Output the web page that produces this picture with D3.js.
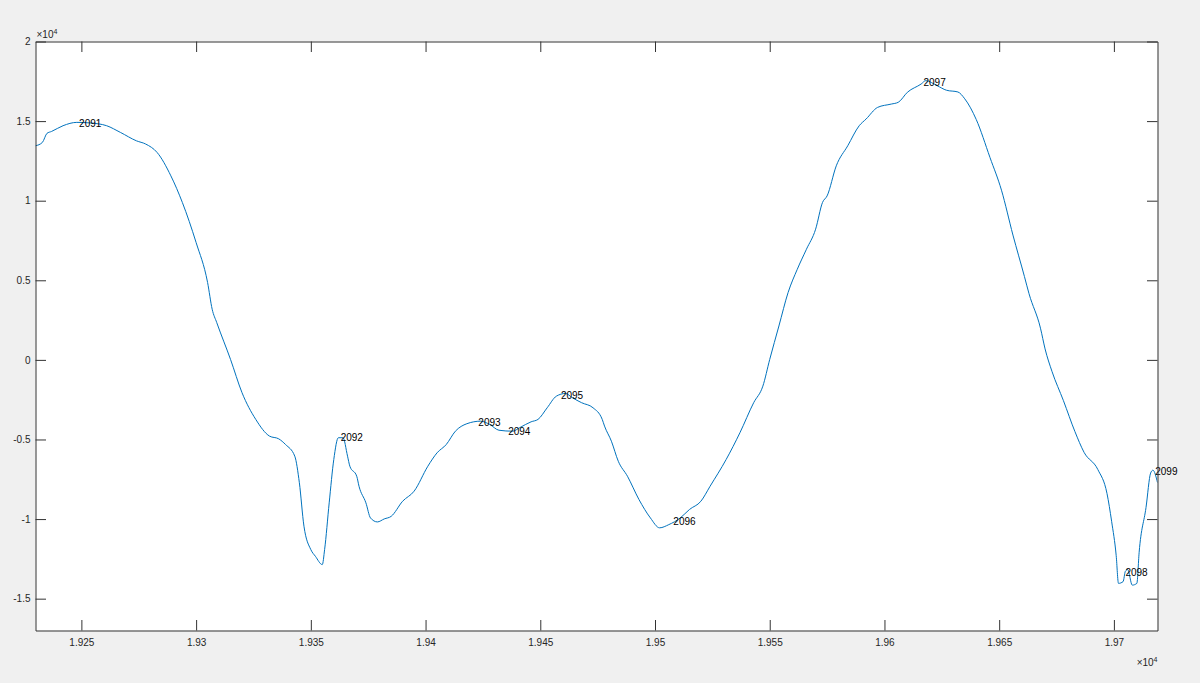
<!DOCTYPE html>
<html>
<head>
<meta charset="utf-8">
<script src="https://cdn.jsdelivr.net/npm/d3@7"></script>
<style>
  html, body { margin: 0; padding: 0; background: #f0f0f0; }
  svg { display: block; }
  text { font-family: "Liberation Sans", Arial, Helvetica, sans-serif; }
</style>
</head>
<body>
<svg id="chart" width="1200" height="683"></svg>
<script>
// ---- data ----
const sampleX = [19230,19233,19235,19237,19242,19248,19254,19261,19267,19274,19278,19283,19289,19294,19300,19305,19307,19309,19315,19320,19326,19332,19336,19339,19343,19345,19347,19350,19352,19355,19356,19358,19360,19362,19364,19366,19367,19370,19371,19374,19376,19379,19382,19385,19390,19395,19401,19405,19409,19413,19418,19424,19428,19432,19438,19441,19446,19449,19453,19457,19461,19464,19468,19473,19477,19478,19481,19484,19488,19493,19498,19502,19506,19511,19515,19520,19524,19531,19537,19543,19547,19550,19554,19558,19562,19566,19570,19573,19575,19579,19584,19589,19592,19597,19603,19606,19610,19616,19618,19623,19627,19632,19635,19640,19646,19651,19656,19661,19663,19668,19670,19673,19678,19683,19687,19693,19697,19699,19701,19702,19704,19705,19706,19708,19710,19711,19714,19716,19717,19719];
const sampleY = [13450,13660,14230,14350,14710,14920,14880,14710,14290,13760,13560,13030,11560,9890,7370,4860,3180,2340,30,-2060,-3740,-4790,-4960,-5320,-6050,-7720,-10450,-11920,-12340,-12860,-11920,-8980,-6260,-4890,-4890,-6050,-6680,-7310,-7940,-8980,-9930,-10180,-9990,-9830,-8880,-8250,-6680,-5840,-5320,-4480,-4010,-3850,-4060,-4420,-4480,-4260,-3890,-3740,-3010,-2280,-2110,-2380,-2690,-3010,-3740,-4160,-5110,-6370,-7310,-8770,-9930,-10550,-10350,-9930,-9400,-8880,-7940,-6260,-4580,-2690,-1650,30,2130,4230,5690,6950,8210,9890,10300,12190,13450,14710,15130,15860,16070,16180,16810,17330,17540,17220,16940,16830,16400,15100,12710,10660,7840,5240,4160,1990,690,-720,-2560,-4500,-5810,-6890,-8400,-10140,-12300,-14040,-13930,-13280,-13170,-14150,-14040,-12090,-9270,-7110,-6930,-7710];

const labelText = ["2091","2092","2093","2094","2095","2096","2097","2098","2099"];
const labelX = [19249,19363,19423,19436,19459,19508,19617,19705,19718];
const labelY = [14840,-4860,-3910,-4500,-2210,-10180,17440,-13330,-7030];

const xTicks = [19250,19300,19350,19400,19450,19500,19550,19600,19650,19700];
const xTickLabels = ["1.925","1.93","1.935","1.94","1.945","1.95","1.955","1.96","1.965","1.97"];
const yTicks = [-15000,-10000,-5000,0,5000,10000,15000,20000];
const yTickLabels = ["-1.5","-1","-0.5","0","0.5","1","1.5","2"];
const yLimits = [-17000, 20000];

// ---- layout ----
const L = 35.5, R = 1157.5, T = 41.5, B = 630.5;
const axisColor = "#333333";
const lineColor = "#0072BD";

const svg = d3.select("#chart");
svg.append("rect").attr("width",1200).attr("height",683).attr("fill","#f0f0f0");

const x = d3.scaleLinear().domain(d3.extent(sampleX)).range([L, R]);
const y = d3.scaleLinear().domain(yLimits).range([B, T]);

svg.append("rect").attr("x",L).attr("y",T).attr("width",R-L).attr("height",B-T).attr("fill","#ffffff");

svg.append("clipPath").attr("id","clip").append("rect")
  .attr("x",L).attr("y",T).attr("width",R-L).attr("height",B-T);

const pts = sampleX.map((v,i)=>[v, sampleY[i]]);
svg.append("path")
  .datum(pts)
  .attr("clip-path","url(#clip)")
  .attr("fill","none")
  .attr("stroke",lineColor)
  .attr("stroke-width",1)
  .attr("stroke-linejoin","round")
  .attr("d", d3.line().x(d=>x(d[0])).y(d=>y(d[1])).curve(d3.curveMonotoneX));

// labels
const lab = svg.append("g");
labelText.forEach((t,i)=>{
  lab.append("text")
    .attr("x", x(labelX[i]))
    .attr("y", y(labelY[i]))
    .attr("dy","0.35em")
    .attr("font-size","10px")
    .attr("fill","#000")
    .text(t);
});

// axes
const tickLen = -10.5;
function styleAxis(g){
  g.selectAll("path.domain").attr("stroke",axisColor).attr("stroke-width",1);
  g.selectAll(".tick line").attr("stroke",axisColor).attr("stroke-width",1);
  g.selectAll(".tick text").attr("fill","#262626").attr("font-size","10px")
    .attr("font-family",'"Liberation Sans", Arial, Helvetica, sans-serif');
}
const xb = svg.append("g").attr("transform",`translate(0,${B})`)
  .call(d3.axisBottom(x).tickValues(xTicks).tickFormat((d,i)=>xTickLabels[i]).tickSizeInner(tickLen).tickSizeOuter(0).tickPadding(8.5));
styleAxis(xb);
const xt = svg.append("g").attr("transform",`translate(0,${T})`)
  .call(d3.axisTop(x).tickValues(xTicks).tickFormat("").tickSizeInner(tickLen).tickSizeOuter(0));
styleAxis(xt);
const yl = svg.append("g").attr("transform",`translate(${L},0)`)
  .call(d3.axisLeft(y).tickValues(yTicks).tickFormat((d,i)=>yTickLabels[i]).tickSizeInner(tickLen).tickSizeOuter(0).tickPadding(5));
styleAxis(yl);
const yr = svg.append("g").attr("transform",`translate(${R},0)`)
  .call(d3.axisRight(y).tickValues(yTicks).tickFormat("").tickSizeInner(tickLen).tickSizeOuter(0));
styleAxis(yr);
[xb,xt,yl,yr].forEach(g=>g.attr("font-family",null));

// exponent labels
const e1 = svg.append("text").attr("x", L+1).attr("y", T-4).attr("font-size","10px").attr("fill","#262626");
e1.append("tspan").text("×10");
e1.append("tspan").attr("font-size","7px").attr("dy","-4").text("4");

const e2 = svg.append("text").attr("x", R).attr("y", B+35).attr("text-anchor","end").attr("font-size","10px").attr("fill","#262626");
e2.append("tspan").text("×10");
e2.append("tspan").attr("font-size","7px").attr("dy","-4").text("4");
</script>
</body>
</html>
